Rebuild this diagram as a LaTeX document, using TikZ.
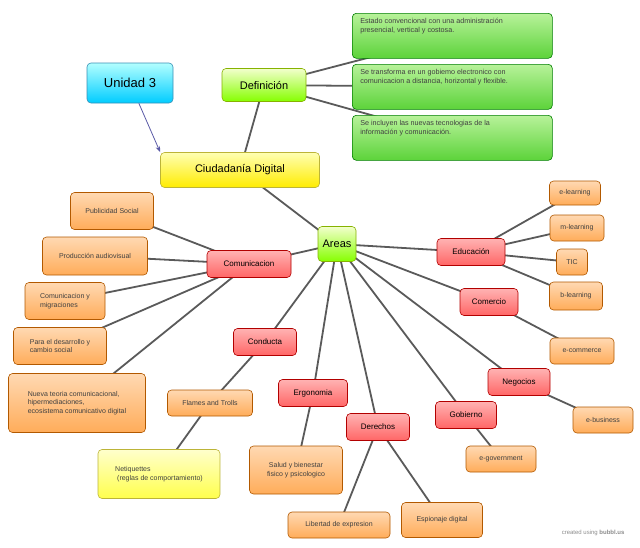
\documentclass[tikz,border=0pt]{standalone}
\usepackage{fontspec}
\setmainfont{Liberation Sans}
\usetikzlibrary{arrows.meta,backgrounds}
\definecolor{edge}{HTML}{5A5A5A}
\definecolor{gtop}{HTML}{B8F29A}
\definecolor{gbot}{HTML}{5CD33A}
\begin{document}
\begin{tikzpicture}[x=1pt,y=-1pt,
 box/.style={rounded corners=4pt,draw=#1!70!black,line width=0.6pt,inner sep=3pt,font=\fontsize{7}{8.5}\selectfont,text=black!75},
 org/.style={box=orange,top color=orange!30!white,bottom color=orange!65!white,minimum height=26pt,align=left},
 red/.style={box=red,top color=red!30!white,bottom color=red!60!white,minimum height=27pt,font=\fontsize{8}{9}\selectfont,text=black},
 grn/.style={box=green!70!black,top color=gtop,bottom color=gbot,anchor=north west,inner sep=0pt,font=\fontsize{7.2}{9}\selectfont},
 ln/.style={draw=edge,line width=1.8pt}]
\useasboundingbox (0,0) rectangle (640,547);
\node[box=cyan,top color=cyan!30!white,bottom color=cyan!80!blue,minimum width=86pt,minimum height=40pt,font=\fontsize{13}{15}\selectfont,text=black] (u) at (130,83) {Unidad 3};
\node[box=lime,top color=lime!20!white,bottom color=lime!70!green,minimum width=84pt,minimum height=33pt,font=\fontsize{11}{13}\selectfont,text=black] (def) at (264,85) {Definición};
\node[box=yellow,top color=yellow!30!white,bottom color=yellow!85!orange,minimum width=159pt,minimum height=35pt,font=\fontsize{11}{13}\selectfont,text=black] (cd) at (240,170) {Ciudadanía Digital};
\node[grn] (g1) at (352,13) {\hspace{8pt}\parbox[t][45pt][t]{192pt}{\vspace{5pt}Estado convencional con una administración\\presencial, vertical y costosa.}};
\node[grn] (g2) at (352,64) {\hspace{8pt}\parbox[t][45pt][t]{192pt}{\vspace{5pt}Se transforma en un gobiemo electronico con\\comunicacion a distancia, horizontal y flexible.}};
\node[grn] (g3) at (352,115) {\hspace{8pt}\parbox[t][45pt][t]{192pt}{\vspace{5pt}Se incluyen las nuevas tecnologias de la\\información y comunicación.}};
\node[box=lime,top color=lime!20!white,bottom color=lime!70!green,minimum width=38pt,minimum height=35pt,font=\fontsize{11}{13}\selectfont,text=black] (ar) at (337,244) {Areas};
\node[red,minimum width=84pt] (com) at (249,264) {Comunicacion};
\node[red,minimum width=68pt] (edu) at (471,252) {Educación};
\node[red,minimum width=58pt] (cme) at (489,302) {Comercio};
\node[red,minimum width=62pt] (neg) at (519,382) {Negocios};
\node[red,minimum width=61pt] (gob) at (466,415) {Gobierno};
\node[red,minimum width=63pt] (der) at (378,427) {Derechos};
\node[red,minimum width=69pt] (erg) at (313,393) {Ergonomia};
\node[red,minimum width=63pt] (con) at (265,342) {Conducta};
\node[org,minimum width=83pt,minimum height=37pt] (o1) at (112,211) {Publicidad Social};
\node[org,minimum width=105pt,minimum height=38pt] (o2) at (95,256) {Producción audiovisual};
\node[org,minimum width=80pt,minimum height=37pt] (o3) at (65,301) {Comunicacion y\\ migraciones};
\node[org,minimum width=93pt,minimum height=37pt] (o4) at (60,346) {Para el desarrollo y\\cambio social};
\node[org,minimum width=137pt,minimum height=59pt] (o5) at (77,403) {Nueva teoria comunicacional,\\hipermediaciones,\\ecosistema comunicativo digital};
\node[org,minimum width=85pt] (fl) at (210,403) {Flames and Trolls};
\node[box=yellow,top color=yellow!20!white,bottom color=yellow!70!white,minimum width=122pt,minimum height=49pt,align=left] (ne) at (159,474) {Netiquettes\\ \ (reglas de comportamiento)};
\node[org,minimum width=93pt,minimum height=48pt,align=center] (sa) at (296,470) {Salud y bienestar\\fisico y psicologico};
\node[org,minimum width=102pt] (li) at (339,525) {Libertad de expresion};
\node[org,minimum width=81pt,minimum height=35pt] (es) at (442,520) {Espionaje digital};
\node[org,minimum width=70pt] (eg) at (501,459) {e-government};
\node[org,minimum width=60pt] (eb) at (603,420) {e-business};
\node[org,minimum width=64pt] (ec) at (582,351) {e-commerce};
\node[org,minimum width=51pt,minimum height=24pt] (e1) at (575,193) {e-learning};
\node[org,minimum width=54pt] (e2) at (577,228) {m-learning};
\node[org,minimum width=31pt] (e3) at (572,262) {TIC};
\node[org,minimum width=53pt,minimum height=28pt] (e4) at (576,296) {b-learning};
\node[font=\fontsize{6}{7}\selectfont,text=black!45,anchor=east] (cr) at (628,533) {created using \textbf{bubbl.us}};
\begin{scope}[on background layer]
\foreach \a/\b in {def/cd,def/g1,def/g2,def/g3,cd/ar,ar/com,ar/edu,ar/cme,ar/neg,ar/gob,ar/der,ar/erg,ar/con,com/o1,com/o2,com/o3,com/o4,com/o5,con/fl,fl/ne,erg/sa,der/li,der/es,gob/eg,neg/eb,cme/ec,edu/e1,edu/e2,edu/e3,edu/e4}
 \draw[ln] (\a.center) -- (\b.center);
\end{scope}
\draw[-{Stealth[length=6pt]},draw=blue!30!gray,line width=0.8pt] (u) -- (cd.north west);
\end{tikzpicture}
\end{document}
